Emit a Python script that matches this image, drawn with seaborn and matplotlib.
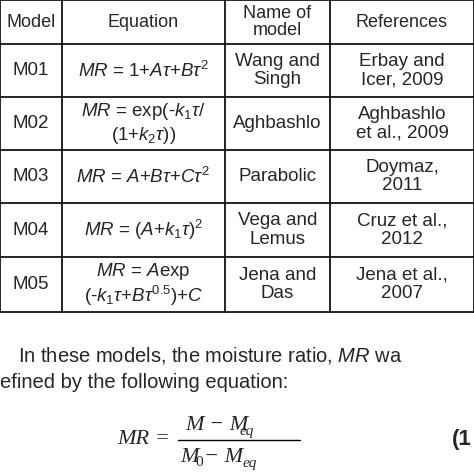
import matplotlib
matplotlib.use("Agg")
import matplotlib.pyplot as plt
import seaborn as sns

sns.set_theme(style="white")
plt.rcParams['font.family'] = ['Liberation Sans', 'DejaVu Sans']
plt.rcParams['mathtext.fontset'] = 'custom'
plt.rcParams['mathtext.rm'] = 'Liberation Sans'
plt.rcParams['mathtext.it'] = 'Liberation Sans:italic'

headers = ["Model", "Equation", "Name of\nmodel", "References"]
models = ["M01", "M02", "M03", "M04", "M05"]
equations = [
    r"$\it{MR}$ = 1+$\it{A}$$\tau$+$\it{B}$$\tau^2$",
    "$\\it{MR}$ = exp(-$\\it{k}_1$$\\tau$/\n(1+$\\it{k}_2$$\\tau$))",
    r"$\it{MR}$ = $\it{A}$+$\it{B}$$\tau$+$\it{C}$$\tau^2$",
    r"$\it{MR}$ = ($\it{A}$+$\it{k}_1$$\tau$)$^2$",
    "$\\it{MR}$ = $\\it{A}$exp\n(-$\\it{k}_1$$\\tau$+$\\it{B}$$\\tau^{0.5}$)+$\\it{C}$",
]
names = ["Wang and\nSingh", "Aghbashlo", "Parabolic", "Vega and\nLemus", "Jena and\nDas"]
refs = ["Erbay and\nIcer, 2009", "Aghbashlo\net al., 2009", "Doymaz,\n2011",
        "Cruz et al.,\n2012", "Jena et al.,\n2007"]

col_x = [0, 62, 225, 330, 474]
row_y = [0, 44, 97, 150, 203, 257, 312]

fig = plt.figure(figsize=(4.74, 4.74), dpi=100)
ax = fig.add_axes([0, 0, 1, 1])
ax.set_xlim(0, 474)
ax.set_ylim(474, 0)
ax.axis("off")

for y in row_y:
    ax.plot([0, 474], [y, y], color="black", lw=1.2)
for x in col_x:
    ax.plot([x, x], [0, 312], color="black", lw=1.2)

fs = 14.5
for j, h in enumerate(headers):
    ax.text((col_x[j] + col_x[j + 1]) / 2, 22, h, ha="center", va="center",
            fontsize=13, linespacing=1.0)
for i in range(len(models)):
    yc = (row_y[i + 1] + row_y[i + 2]) / 2
    for j, val in enumerate([models[i], equations[i], names[i], refs[i]]):
        ax.text((col_x[j] + col_x[j + 1]) / 2, yc, val, ha="center", va="center",
                fontsize=13.5, linespacing=1.15)

ax.text(18, 355, r"In these models, the moisture ratio, $\it{MR}$ wa", fontsize=fs, va="center")
ax.text(0, 383, "efined by the following equation:", fontsize=fs, va="center")

serif = ['Liberation Serif']
ax.text(170, 440, "MR =", family=serif, style="italic", fontsize=16, ha="right", va="center")
ax.plot([178, 300], [440, 440], color="black", lw=1)
ax.text(185, 425, "M − M", family=serif, style="italic", fontsize=16, va="center")
ax.text(240, 431, "eq", family=serif, style="italic", fontsize=11, va="center")
ax.text(180, 457, "M", family=serif, style="italic", fontsize=16, va="center")
ax.text(195, 463, "0", family=serif, fontsize=11, va="center")
ax.text(204, 457, "− M", family=serif, style="italic", fontsize=16, va="center")
ax.text(243, 463, "eq", family=serif, style="italic", fontsize=11, va="center")
ax.text(452, 440, "(1", fontsize=16, weight="bold", va="center")

fig.savefig("out.png", dpi=100)
